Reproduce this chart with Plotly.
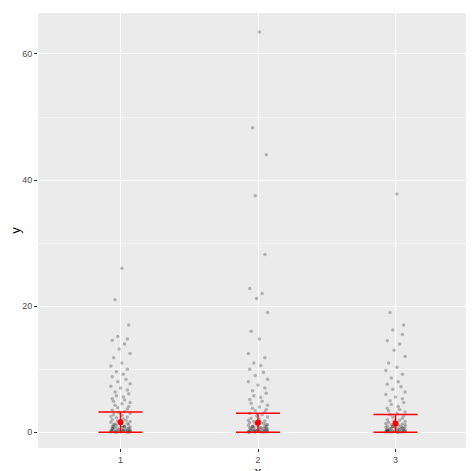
import plotly.graph_objects as go

groups = [1, 2, 3]
y1 = [26.0, 21.0, 17.0, 15.2, 14.8, 14.6, 14.0, 13.2, 12.5, 11.8, 11.0, 10.5, 10.0, 9.6, 9.2, 8.8, 8.4, 8.0, 7.7, 7.3, 7.0, 6.7, 6.4, 6.1, 5.8, 5.6, 5.3, 5.1, 4.9, 4.7, 4.5, 4.3, 4.1, 3.9, 3.7, 3.5, 3.3, 3.1, 3.0, 2.8, 2.7, 2.5, 2.4, 2.3, 2.1, 2.0, 1.9, 1.8, 1.7, 1.6, 1.5, 1.4, 1.3, 1.2, 1.1, 1.0, 0.95, 0.9, 0.85, 0.8, 0.75, 0.7, 0.65, 0.6, 0.55, 0.5, 0.45, 0.4, 0.35, 0.3, 0.28, 0.25, 0.22, 0.2, 0.18, 0.15, 0.12, 0.1, 0.08, 0.06, 0.05, 0.04, 0.03, 0.02, 0.01, 0.3, 0.6, 0.9, 1.2, 0.2]
y2 = [63.5, 48.3, 44.0, 37.5, 28.2, 22.8, 22.0, 21.2, 19.0, 16.0, 14.8, 12.5, 11.8, 11.0, 10.6, 10.0, 9.5, 9.0, 8.4, 8.0, 7.5, 7.0, 6.6, 6.2, 5.8, 5.5, 5.2, 4.9, 4.6, 4.3, 4.0, 3.8, 3.6, 3.4, 3.2, 3.0, 2.8, 2.6, 2.4, 2.2, 2.0, 1.9, 1.8, 1.7, 1.6, 1.5, 1.4, 1.3, 1.2, 1.1, 1.0, 0.95, 0.9, 0.85, 0.8, 0.75, 0.7, 0.65, 0.6, 0.55, 0.5, 0.45, 0.4, 0.35, 0.3, 0.28, 0.25, 0.22, 0.2, 0.18, 0.15, 0.12, 0.1, 0.08, 0.06, 0.05, 0.04, 0.03, 0.02, 0.01, 0.3, 0.6, 0.9, 1.2, 0.2]
y3 = [37.8, 19.0, 17.0, 16.2, 15.5, 14.5, 14.0, 13.0, 12.0, 11.0, 10.3, 9.8, 9.2, 8.6, 8.0, 7.6, 7.2, 6.8, 6.4, 6.0, 5.6, 5.3, 5.0, 4.7, 4.4, 4.1, 3.8, 3.6, 3.4, 3.2, 3.0, 2.8, 2.6, 2.4, 2.2, 2.0, 1.9, 1.8, 1.7, 1.6, 1.5, 1.4, 1.3, 1.2, 1.1, 1.0, 0.95, 0.9, 0.85, 0.8, 0.75, 0.7, 0.65, 0.6, 0.55, 0.5, 0.45, 0.4, 0.35, 0.3, 0.28, 0.25, 0.22, 0.2, 0.18, 0.15, 0.12, 0.1, 0.08, 0.06, 0.05, 0.04, 0.03, 0.02, 0.01, 0.3, 0.6, 0.9, 1.2, 0.2]
jitter = [0.01, -0.04, 0.06, -0.02, 0.05, -0.06, 0.03, -0.01, 0.07, -0.05, 0.01, -0.07, 0.05, -0.03, 0.02, -0.06, 0.04, -0.02, 0.07, -0.07, 0.0, 0.05, -0.04, 0.06, -0.03, 0.02, -0.06, 0.03, -0.05, 0.07]
means = [1.6, 1.5, 1.4]
lows = [0.0, 0.0, 0.0]
highs = [3.2, 3.0, 2.8]

fig = go.Figure()
for g, ys in zip(groups, [y1, y2, y3]):
    xs = [g + jitter[i % len(jitter)] for i in range(len(ys))]
    fig.add_trace(go.Scatter(x=xs, y=ys, mode="markers",
                             marker=dict(color="rgba(0,0,0,0.25)", size=3.5), showlegend=False))
fig.add_trace(go.Scatter(
    x=groups, y=means, mode="markers", marker=dict(color="red", size=6), showlegend=False,
    error_y=dict(type="data", symmetric=False,
                 array=[h - m for h, m in zip(highs, means)],
                 arrayminus=[m - l for m, l in zip(means, lows)],
                 color="red", thickness=1.5, width=22)))
fig.update_layout(
    width=474, height=471, margin=dict(l=30, r=4, t=5, b=31),
    plot_bgcolor="#EBEBEB", paper_bgcolor="white",
    font=dict(family="Liberation Sans", size=11, color="black"),
    xaxis=dict(range=[0.4, 3.6], tickvals=groups, ticktext=["1", "2", "3"], automargin=False,
               gridcolor="white", showgrid=True, zeroline=False, ticks="outside",
               tickcolor="#333", ticklen=3, tickfont=dict(color="#4D4D4D", size=9),
               title=dict(text="x", standoff=2)),
    yaxis=dict(range=[-2.5, 66.5], tickvals=[0, 20, 40, 60], gridcolor="white", automargin=False,
               zeroline=False, ticks="outside", tickcolor="#333", ticklen=3,
               tickfont=dict(color="#4D4D4D", size=9), title=dict(text="y", standoff=2),
               minor=dict(tickvals=[10, 30, 50], showgrid=True, gridcolor="#F5F5F5", gridwidth=0.6)),
)
fig.write_html("out.html")
